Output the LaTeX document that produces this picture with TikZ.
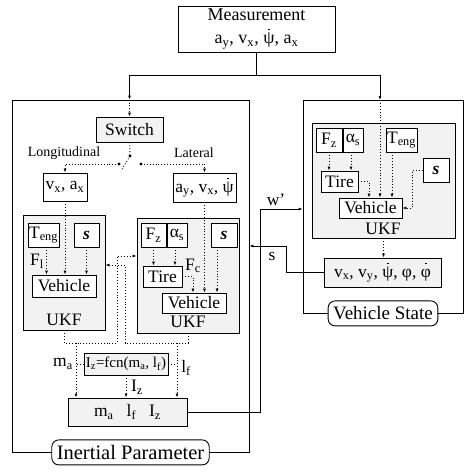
\documentclass[tikz,border=0pt]{standalone}
\usepackage{fontspec}
\setmainfont{Liberation Serif}
\usetikzlibrary{arrows.meta}
\newcommand{\idx}[1]{\textsubscript{#1}}
\newcommand{\dotover}[1]{\leavevmode\setbox0\hbox{#1}\hbox to\wd0{\hss\raisebox{0.74em}{\rule{1.7pt}{1.7pt}}\hss}\hskip-\wd0\box0}
\newcommand{\psidot}{\dotover{ψ}}
\newcommand{\phidot}{\dotover{φ}}
\begin{document}
\begin{tikzpicture}[x=1pt, y=-1pt, font=\fontsize{17.5}{20}\selectfont,
    boxStyle/.style={draw, line width=0.9pt, fill=white, inner sep=1pt},
    grayStyle/.style={boxStyle, fill=black!5},
    frameStyle/.style={draw, line width=0.8pt},
    tagStyle/.style={draw, line width=0.9pt, fill=white, rounded corners=7pt, inner xsep=5pt, inner ysep=2pt, minimum height=25},
    dotLine/.style={dotted, line width=0.9pt},
    dotArrow/.style={dotLine, -{Latex[length=4pt, width=3pt]}},
    lineArrow/.style={line width=0.8pt, -{Latex[length=4pt, width=3pt]}},
    smallText/.style={font=\fontsize{14}{16}\selectfont}]
    \useasboundingbox (0,0) rectangle (474,474);

    \node[boxStyle, minimum width=157, minimum height=46, align=center, font=\fontsize{18}{23}\selectfont](meas) at (256.5,29) {Measurement\\a\idx{y}, v\idx{x}, \psidot, a\idx{x}};

    \node[frameStyle, minimum width=237, minimum height=352](inpar) at (130.5,276) {};
    \node[frameStyle, minimum width=160, minimum height=213](vstate) at (383,206.5) {};

    \node[grayStyle, minimum width=67, minimum height=25](switch) at (129.5,129.5) {Switch};
    \node[smallText](longi) at (64,153) {Longitudinal};
    \node[smallText](lat) at (194,153) {Lateral};
    \node[boxStyle, minimum width=44, minimum height=28](vxax) at (65,187) {v\idx{x}, a\idx{x}};
    \node[boxStyle, minimum width=63, minimum height=29](aylat) at (204.5,187.5) {a\idx{y}, v\idx{x}, \psidot};

    \node[grayStyle, minimum width=82, minimum height=115](ukfL) at (64,272.5) {};
    \node[boxStyle, minimum width=31, minimum height=24](tengL) at (43.5,235) {T\idx{eng}};
    \node[boxStyle, minimum width=25, minimum height=24](sL) at (86.5,235) {\textbf{\textit{s}}};
    \node[boxStyle, minimum width=64, minimum height=22](vehL) at (64,286) {Vehicle};
    \node(ukfLtxt) at (64,320) {UKF};
    \node(fl) at (37,261) {F\idx{l}};

    \node[grayStyle, minimum width=102, minimum height=115](ukfM) at (188,275.5) {};
    \node[boxStyle, minimum width=25, minimum height=24](fzM) at (153.5,235) {F\idx{z}};
    \node[boxStyle, minimum width=20, minimum height=24](asM) at (177,235) {α\idx{s}};
    \node[boxStyle, minimum width=26, minimum height=24](sM) at (224,235) {\textbf{\textit{s}}};
    \node[boxStyle, minimum width=39, minimum height=21](tireM) at (162.5,276.5) {Tire};
    \node[boxStyle, minimum width=64, minimum height=20](vehM) at (194,303) {Vehicle};
    \node(ukfMtxt) at (188,322) {UKF};
    \node(fc) at (193,266) {F\idx{c}};

    \node[grayStyle, minimum width=143, minimum height=115](ukfR) at (383.5,180.5) {};
    \node[boxStyle, minimum width=26, minimum height=24](fzR) at (329,140) {F\idx{z}};
    \node[boxStyle, minimum width=20, minimum height=24](asR) at (353,140) {α\idx{s}};
    \node[boxStyle, minimum width=31, minimum height=24](tengR) at (401.5,140) {T\idx{eng}};
    \node[boxStyle, minimum width=26, minimum height=24](sR) at (436,170) {\textbf{\textit{s}}};
    \node[boxStyle, minimum width=37, minimum height=21](tireR) at (339.5,181.5) {Tire};
    \node[boxStyle, minimum width=63, minimum height=20](vehR) at (370.5,208) {Vehicle};
    \node(ukfRtxt) at (383,229) {UKF};

    \node[grayStyle, minimum width=117, minimum height=29](states) at (382.5,272.5) {v\idx{x}, v\idx{y}, \psidot, φ, \phidot};

    \node[grayStyle, minimum width=84, minimum height=22, font=\fontsize{15}{17}\selectfont](fcn) at (126,364) {I\idx{z}=fcn(m\idx{a}, l\idx{f})};
    \node[grayStyle, minimum width=119, minimum height=28](params) at (127.5,412) {m\idx{a}\hspace{13pt}l\idx{f}\hspace{13pt}I\idx{z}};
    \node(ma) at (63,364) {m\idx{a}};
    \node(lf) at (186,368) {l\idx{f}};
    \node(iz) at (137,387) {I\idx{z}};
    \node(wlab) at (276,200) {w'};
    \node(slab) at (272,256) {s};

    \coordinate (split) at (meas.south |- 0,75);
    \coordinate (tapL) at (switch.north |- inpar.north);
    \coordinate (tapR) at (380,100);
    \draw[line width=0.8pt] (meas) -- (split);
    \draw[lineArrow] (split) -| (tapL);
    \draw[lineArrow] (split) -| (tapR);
    \draw[dotArrow] (tapL) -- (switch);
    \draw[dotArrow] (tapR) -- (tapR |- vehR.north);

    \coordinate (pivot) at (130,156);
    \coordinate (tipL) at (119,164);
    \coordinate (tipR) at (141,164);
    \coordinate (blade) at (121,171);
    \draw[dotLine] (switch) -- (pivot);
    \draw[dotLine] (pivot) -- (blade);
    \fill (pivot) circle (1.7);
    \fill (tipL) circle (1.7);
    \fill (tipR) circle (1.7);
    \draw[dotArrow] (tipL) -| (vxax);
    \draw[dotArrow] (tipR) -| (aylat);

    \draw[dotArrow] ([xshift=3pt]tengL.south) -- ([xshift=3pt]tengL.south |- vehL.north);
    \draw[dotArrow] (vxax) -- (vxax |- vehL.north);
    \draw[dotArrow] (sL) -- (sL |- vehL.north);

    \draw[dotArrow] (fzM) -- (fzM |- tireM.north);
    \draw[dotArrow] ([xshift=-2pt]asM.south) -- ([xshift=-2pt]asM.south |- tireM.north);
    \draw[dotArrow] (tireM.east) -| ([xshift=-1pt]vehM.north);
    \draw[dotArrow] (aylat) -- (aylat |- vehM.north);
    \draw[dotArrow] ([xshift=-7pt]sM.south) -- ([xshift=-7pt]sM.south |- vehM.north);

    \draw[dotArrow] (fzR) -- (fzR |- tireR.north);
    \draw[dotArrow] ([xshift=-2pt]asR.south) -- ([xshift=-2pt]asR.south |- tireR.north);
    \draw[dotArrow] (tireR.east) -| ([xshift=-1.5pt]vehR.north);
    \draw[dotArrow] ([xshift=-9.5pt]tengR.south) -- ([xshift=-9.5pt]tengR.south |- vehR.north);
    \draw[dotArrow] (sR.west) -- ++(-10,0) |- (vehR.east);
    \draw[dotArrow] (ukfR.south) -- (ukfR.south |- states.north);

    \coordinate (crossA) at (117,256);
    \coordinate (crossB) at (125,265);
    \draw[dotArrow] (ukfL.south) -- (ukfL.south |- 0,343) -| (crossA) -- (ukfM.west |- crossA);
    \draw[dotArrow] (ukfM.south) -- (ukfM.south |- 0,343) -| (crossB) -- (ukfL.east |- crossB);

    \coordinate (maTop) at (76,343);
    \coordinate (lfTop) at (177,343);
    \draw[dotArrow] (maTop) -- (maTop |- params.north);
    \draw[dotArrow] (lfTop) -- (lfTop |- params.north);
    \draw[dotLine] (fcn.west) -- (fcn.west -| maTop);
    \draw[dotLine] (fcn.east) -- (fcn.east -| lfTop);
    \draw[dotArrow] (fcn) -- (fcn |- params.north);

    \coordinate (sIn) at (inpar.east |- 0,246);
    \coordinate (wIn) at (vstate.west |- 0,209);
    \draw[lineArrow] (states.west) -- ++(-37,0) |- (sIn);
    \draw[lineArrow] (params.east) -- ++(73,0) |- (wIn);

    \node[tagStyle, font=\fontsize{20.5}{22}\selectfont](inparTag) at (inpar.south) {Inertial Parameter};
    \node[tagStyle, font=\fontsize{19}{21}\selectfont](vstateTag) at (vstate.south) {Vehicle State};
\end{tikzpicture}
\end{document}
